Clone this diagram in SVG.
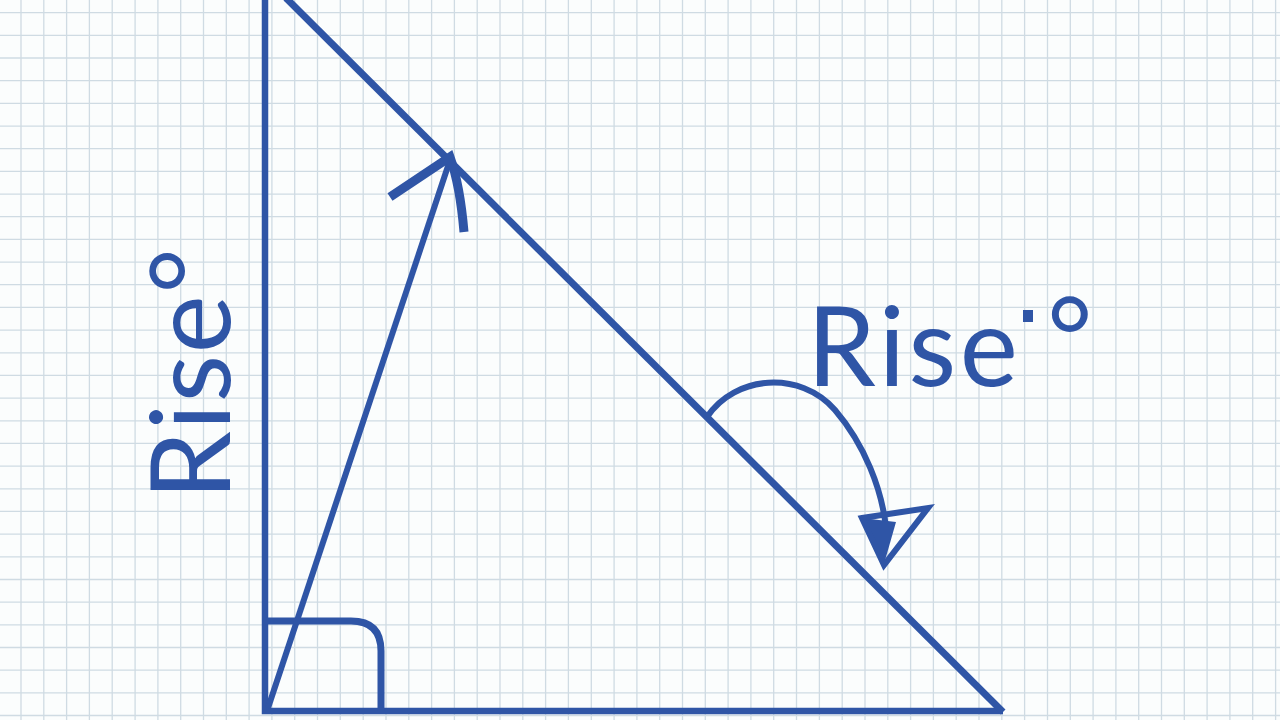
<svg xmlns="http://www.w3.org/2000/svg" width="1280" height="720" viewBox="0 0 1280 720">
  <defs>
    <style>
      .grid { fill: none; stroke: #cfdbe3; stroke-width: 1.3; }
      .ink { fill: none; stroke: #2f55a6; stroke-linecap: butt; }
      .lbl { font-family: Lato, "Liberation Sans", sans-serif; font-size: 110px; font-weight: 400; fill: #2f55a6; }
    </style>
  </defs>
  <rect width="1280" height="720" fill="#fbfdfd"/>
  <path class="grid" d="M21.0,0V720 M43.8,0V720 M66.6,0V720 M89.4,0V720 M112.2,0V720 M135.1,0V720 M157.9,0V720 M180.7,0V720 M203.5,0V720 M226.3,0V720 M249.1,0V720 M271.9,0V720 M294.7,0V720 M317.5,0V720 M340.3,0V720 M363.2,0V720 M386.0,0V720 M408.8,0V720 M431.6,0V720 M454.4,0V720 M477.2,0V720 M500.0,0V720 M522.8,0V720 M545.6,0V720 M568.4,0V720 M591.3,0V720 M614.1,0V720 M636.9,0V720 M659.7,0V720 M682.5,0V720 M705.3,0V720 M728.1,0V720 M750.9,0V720 M773.7,0V720 M796.5,0V720 M819.4,0V720 M842.2,0V720 M865.0,0V720 M887.8,0V720 M910.6,0V720 M933.4,0V720 M956.2,0V720 M979.0,0V720 M1001.8,0V720 M1024.6,0V720 M1047.5,0V720 M1070.3,0V720 M1093.1,0V720 M1115.9,0V720 M1138.7,0V720 M1161.5,0V720 M1184.3,0V720 M1207.1,0V720 M1229.9,0V720 M1252.7,0V720 M1275.6,0V720
  M0,12.7H1280 M0,35.4H1280 M0,58.0H1280 M0,80.7H1280 M0,103.4H1280 M0,126.1H1280 M0,148.7H1280 M0,171.4H1280 M0,194.1H1280 M0,216.7H1280 M0,239.4H1280 M0,262.1H1280 M0,284.7H1280 M0,307.4H1280 M0,330.1H1280 M0,352.8H1280 M0,375.4H1280 M0,398.1H1280 M0,420.8H1280 M0,443.4H1280 M0,466.1H1280 M0,488.8H1280 M0,511.4H1280 M0,534.1H1280 M0,556.8H1280 M0,579.5H1280 M0,602.1H1280 M0,624.8H1280 M0,647.5H1280 M0,670.1H1280 M0,692.8H1280 M0,715.5H1280"/>

  <g id="triangle">
    <path class="ink" d="M265,0 V711 H1003" stroke-width="6.5"/>
    <path class="ink" d="M286,-2 L1003,712" stroke-width="7"/>
  </g>

  <g id="right-angle">
    <path class="ink" d="M265,621 H351 Q381,621 381,651 V711" stroke-width="7"/>
  </g>

  <g id="connectors">
    <path class="ink" d="M268,708 L450,160" stroke-width="6"/>
    <path class="ink" d="M390,197 L450,157 Q460,185 464,232" stroke-width="9" stroke-linejoin="miter"/>
    <path class="ink" d="M707,417 C735,375 800,370 835,410 C865,445 882,490 886,528" stroke-width="6"/>
    <polygon points="862,518 896,522 884,564" fill="#2f55a6"/>
    <polygon points="862,518 928,508 884,565" fill="none" stroke="#2f55a6" stroke-width="6" stroke-linejoin="miter"/>
  </g>

  <g id="label-right">
    <text class="lbl" x="807" y="386" letter-spacing="3.5">Rise</text>
    <rect x="1023" y="310" width="10" height="12" fill="#2f55a6"/>
    <text class="lbl" x="1047" y="377" font-size="78">°</text>
  </g>

  <g id="label-left">
    <text class="lbl" transform="translate(230,500) rotate(-90)" letter-spacing="1.5">Rise°</text>
  </g>
</svg>
